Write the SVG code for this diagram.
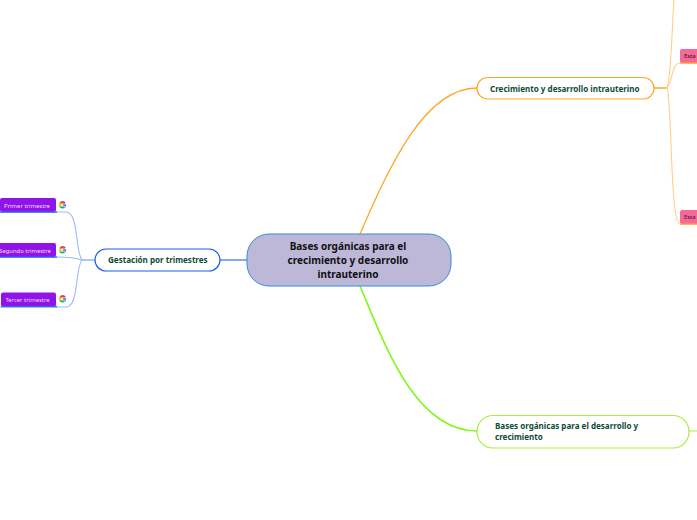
<svg xmlns="http://www.w3.org/2000/svg" width="697" height="520" viewBox="0 0 697 520">
<style>
text{font-family:"Noto Sans","Open Sans",sans-serif}
.sub{fill:#fff;stroke-width:1.2}
.t{font-size:8.05px;font-weight:700;fill:#0d4a3a}
.c{fill:none;stroke-linecap:round}
.pp{fill:#9013e8}
.pt{font-size:5.9px;fill:#f0dcff;text-anchor:middle}
.pk{fill:#f5689a}
.kt{font-size:5.9px;fill:#3a1028}
</style>
<defs>
<g id="g">
<path d="M3.3 -2.2A3.6 3.6 0 0 0 -3 -2L0 0Z" fill="#ea4335"/>
<path d="M-3 -2A3.6 3.6 0 0 0 -3 2L0 0Z" fill="#fbbc05"/>
<path d="M-3 2A3.6 3.6 0 0 0 2.6 2.5L0 0Z" fill="#34a853"/>
<path d="M2.6 2.5A3.6 3.6 0 0 0 3.6 -.6H0V.8H2Z" fill="#4285f4"/>
<circle r="1.7" fill="#fff"/>
<rect x="0" y="-.6" width="3.6" height="1.3" fill="#4285f4"/>
</g>
</defs>
<g id="connectors">
<path class="c" stroke="#ffa726" stroke-width="1.3" d="M360 234C390 165 425 88 477 88"/>
<path class="c" stroke="#84f51e" stroke-width="1.6" d="M360 286C385 345 415 431 477 431"/>
<path class="c" stroke="#5b8dff" stroke-width="1.3" d="M220 260H247"/>
<path class="c" stroke="#ffa726" stroke-width="1.3" d="M654 88H667"/>
<path class="c" stroke="#ffd08a" stroke-width="1.1" d="M667 88C672 70 672 20 674 0"/>
<path class="c" stroke="#ffd08a" stroke-width="1.1" d="M667 88C673 80 672 63 680 63"/>
<path class="c" stroke="#ffd08a" stroke-width="1.1" d="M667 88C672 100 670 224 680 224"/>
<path class="c" stroke="#5b8dff" stroke-width="1.2" d="M82 260H95"/>
<path class="c" stroke="#9db8ff" stroke-width="1.1" d="M82 260C75 252 79 212 66 212H0"/>
<path class="c" stroke="#9db8ff" stroke-width="1.1" d="M82 260C76 258 68 257 57 257H0"/>
<path class="c" stroke="#9db8ff" stroke-width="1.1" d="M82 260C75 268 79 307 66 307H0"/>
<path class="c" stroke="#a6f03c" stroke-width="1.2" d="M689 431H697"/>
</g>
<g id="root">
<rect x="247" y="234" width="204" height="52" rx="22" fill="#bdb7d8" stroke="#2f8fd8" stroke-width="1"/>
<g font-size="10" font-weight="700" fill="#111" text-anchor="middle">
<text x="348" y="250">Bases orgánicas para el</text>
<text x="348" y="264">crecimiento y desarrollo</text>
<text x="348" y="278">intrauterino</text>
</g>
</g>
<g id="crecimiento">
<rect class="sub" x="477" y="77.500" width="177" height="21.500" rx="10.700" stroke="#ffa726"/>
<text class="t" x="490" y="91.500">Crecimiento y desarrollo intrauterino</text>
</g>
<g id="bases">
<rect class="sub" x="477" y="415.500" width="212" height="32.500" rx="16" stroke="#a6f03c"/>
<text class="t" x="495" y="429">Bases orgánicas para el desarrollo y</text>
<text class="t" x="495" y="440">crecimiento</text>
</g>
<g id="gestacion">
<rect class="sub" x="95" y="249" width="125" height="22" rx="11" stroke="#1a5cf0"/>
<text class="t" x="108" y="263">Gestación por trimestres</text>
</g>
<g id="primer">
<rect class="pp" x="0" y="198" width="56" height="14" rx="2"/>
<rect x="0" y="211.500" width="57" height="1.300" fill="#2a6cf5"/>
<text class="pt" x="27" y="207.500">Primer trimestre</text>
<use href="#g" x="62.500" y="205"/>
</g>
<g id="segundo">
<rect class="pp" x="-2" y="243" width="58" height="14" rx="2"/>
<rect x="0" y="256.500" width="57" height="1.300" fill="#2a6cf5"/>
<text class="pt" x="25" y="252.500">Segundo trimestre</text>
<use href="#g" x="62.500" y="250"/>
</g>
<g id="tercer">
<rect class="pp" x="1" y="292.500" width="55" height="14" rx="2"/>
<rect x="1" y="306" width="56" height="1.300" fill="#2a6cf5"/>
<text class="pt" x="27.500" y="302">Tercer trimestre</text>
<use href="#g" x="62.500" y="299"/>
</g>
<g id="estadio1">
<rect class="pk" x="680" y="49" width="20" height="14" rx="2"/>
<rect x="680" y="62.500" width="17" height="1.300" fill="#ffa726"/>
<text class="kt" x="684" y="58">Esta</text>
</g>
<g id="estadio2">
<rect class="pk" x="680" y="210" width="20" height="14" rx="2"/>
<rect x="680" y="223.500" width="17" height="1.300" fill="#ffa726"/>
<text class="kt" x="684" y="219">Esta</text>
</g>
</svg>
